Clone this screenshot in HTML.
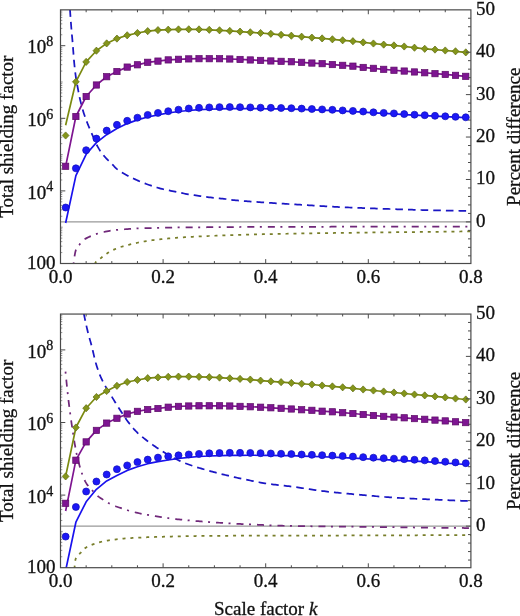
<!DOCTYPE html><html><head><meta charset="utf-8"><style>html,body{margin:0;padding:0;background:#fff;}svg{display:block;}text{font-family:"Liberation Serif","Times New Roman",serif;fill:#111;stroke:#111;stroke-width:0.3px;}</style></head><body>
<svg width="520" height="616" viewBox="0 0 520 616">
<defs>
<clipPath id="c0"><rect x="60.5" y="9.85" width="410.40" height="253.65"/></clipPath>
<clipPath id="c1"><rect x="60.5" y="314.06" width="410.40" height="253.64"/></clipPath>
</defs>
<line x1="60.5" y1="221.90" x2="470.9" y2="221.90" stroke="#999" stroke-width="1.3"/>
<g clip-path="url(#c0)" fill="none" stroke-linecap="butt">
<path d="M70,9.85 L70.1,11.34 L70.21,12.84 L70.31,14.33 L70.42,15.82 L70.52,17.31 L70.63,18.81 L70.74,20.3 L70.85,21.79 L70.96,23.28 L71.08,24.77 L71.19,26.27 L71.31,27.76 L71.43,29.25 L71.56,30.74 L71.69,32.23 L71.82,33.72 L71.95,35.21 L72.09,36.7 L72.22,38.19 L72.36,39.68 L72.49,41.17 L72.61,42.66 L72.74,44.15 L72.86,45.65 L72.97,47.14 L73.08,48.63 L73.19,50.12 L73.31,51.61 L73.42,53.11 L73.53,54.6 L73.64,56.09 L73.76,57.58 L73.88,59.07 L74.01,60.56 L74.14,62.05 L74.28,63.54 L74.43,65.03 L74.58,66.52 L74.73,68.01 L74.89,69.5 L75.06,70.98 L75.24,72.47 L75.43,73.95 L75.63,75.44 L75.84,76.92 L76.07,78.4 L76.31,79.87 L76.56,81.35 L76.83,82.82 L77.09,84.29 L77.36,85.76 L77.64,87.24 L77.91,88.71 L78.18,90.18 L78.46,91.65 L78.75,93.12 L79.04,94.58 L79.34,96.05 L79.65,97.51 L79.97,98.97 L80.31,100.43 L80.65,101.89 L81.01,103.34 L81.38,104.79 L81.76,106.24 L82.15,107.68 L82.55,109.12 L82.97,110.56 L83.4,111.99 L83.86,113.42 L84.32,114.84 L84.81,116.26 L85.31,117.67 L85.82,119.07 L86.35,120.47 L86.89,121.87 L87.43,123.26 L87.98,124.65 L88.54,126.04 L89.12,127.42 L89.71,128.8 L90.31,130.17 L90.91,131.54 L91.51,132.91 L92.11,134.28 L92.68,135.66 L93.26,137.04 L93.83,138.43 L94.4,139.81 L94.99,141.18 L95.6,142.55 L96.25,143.9 L96.93,145.23 L97.64,146.55 L98.37,147.85 L99.13,149.14 L99.93,150.41 L100.76,151.65 L101.63,152.87 L102.54,154.06 L103.48,155.22 L104.44,156.36 L105.44,157.48 L106.45,158.58 L107.47,159.67 L108.53,160.74 L109.61,161.77 L110.71,162.78 L111.8,163.81 L112.85,164.87 L113.86,165.98 L114.85,167.1 L115.89,168.17 L117.03,169.15 L118.22,170.05 L119.45,170.9 L120.71,171.71 L121.99,172.48 L123.29,173.23 L124.59,173.97 L125.89,174.7 L127.21,175.42 L128.53,176.12 L129.86,176.8 L131.2,177.47 L132.54,178.13 L133.9,178.77 L135.25,179.39 L136.62,180.01 L137.99,180.61 L139.36,181.2 L140.74,181.78 L142.13,182.34 L143.52,182.89 L144.92,183.43 L146.32,183.96 L147.72,184.47 L149.14,184.96 L150.55,185.45 L151.96,185.94 L153.38,186.41 L154.81,186.87 L156.24,187.31 L157.67,187.74 L159.11,188.15 L160.56,188.54 L162.01,188.9 L163.46,189.24 L164.93,189.56 L166.39,189.87 L167.85,190.17 L169.32,190.47 L170.79,190.77 L172.25,191.07 L173.72,191.38 L175.18,191.69 L176.64,192 L178.11,192.31 L179.57,192.62 L181.04,192.92 L182.51,193.21 L183.97,193.49 L185.45,193.77 L186.92,194.02 L188.4,194.27 L189.87,194.51 L191.35,194.74 L192.83,194.97 L194.31,195.19 L195.79,195.41 L197.27,195.62 L198.75,195.84 L200.23,196.06 L201.71,196.27 L203.19,196.49 L204.67,196.7 L206.16,196.9 L207.64,197.09 L209.12,197.28 L210.61,197.45 L212.1,197.62 L213.59,197.78 L215.07,197.93 L216.56,198.07 L218.05,198.22 L219.54,198.37 L221.03,198.52 L222.52,198.67 L224.01,198.83 L225.49,199 L226.98,199.19 L228.46,199.39 L229.94,199.6 L231.42,199.81 L232.91,200.01 L234.39,200.19 L235.88,200.35 L237.37,200.49 L238.86,200.63 L240.35,200.76 L241.84,200.89 L243.33,201.01 L244.82,201.13 L246.31,201.24 L247.81,201.35 L249.3,201.46 L250.79,201.57 L252.28,201.67 L253.78,201.77 L255.27,201.87 L256.76,201.98 L258.25,202.08 L259.75,202.18 L261.24,202.29 L262.73,202.39 L264.23,202.49 L265.72,202.59 L267.21,202.69 L268.7,202.79 L270.2,202.89 L271.69,202.98 L273.18,203.08 L274.68,203.17 L276.17,203.27 L277.66,203.36 L279.16,203.45 L280.65,203.55 L282.14,203.64 L283.64,203.73 L285.13,203.82 L286.62,203.91 L288.12,204 L289.61,204.09 L291.1,204.18 L292.6,204.27 L294.09,204.36 L295.58,204.45 L297.08,204.54 L298.57,204.63 L300.07,204.73 L301.56,204.82 L303.05,204.91 L304.55,205 L306.04,205.1 L307.53,205.19 L309.03,205.28 L310.52,205.38 L312.01,205.47 L313.51,205.56 L315,205.65 L316.49,205.75 L317.99,205.84 L319.48,205.93 L320.97,206.02 L322.47,206.11 L323.96,206.2 L325.45,206.29 L326.95,206.37 L328.44,206.46 L329.93,206.55 L331.43,206.63 L332.92,206.71 L334.42,206.79 L335.91,206.87 L337.41,206.95 L338.9,207.02 L340.39,207.1 L341.89,207.17 L343.38,207.24 L344.88,207.3 L346.37,207.37 L347.87,207.44 L349.36,207.5 L350.86,207.57 L352.35,207.63 L353.85,207.69 L355.34,207.75 L356.84,207.81 L358.33,207.87 L359.83,207.93 L361.32,207.99 L362.82,208.04 L364.31,208.1 L365.81,208.15 L367.3,208.21 L368.8,208.26 L370.29,208.32 L371.79,208.37 L373.28,208.42 L374.78,208.48 L376.27,208.53 L377.77,208.58 L379.27,208.64 L380.76,208.69 L382.26,208.74 L383.75,208.79 L385.25,208.84 L386.74,208.9 L388.24,208.95 L389.73,209 L391.23,209.05 L392.72,209.1 L394.22,209.15 L395.71,209.21 L397.21,209.26 L398.7,209.31 L400.2,209.36 L401.7,209.41 L403.19,209.46 L404.69,209.51 L406.18,209.55 L407.68,209.6 L409.17,209.65 L410.67,209.7 L412.16,209.74 L413.66,209.79 L415.16,209.83 L416.65,209.87 L418.15,209.91 L419.64,209.96 L421.14,210 L422.63,210.03 L424.13,210.07 L425.63,210.11 L427.12,210.14 L428.62,210.18 L430.11,210.21 L431.61,210.24 L433.1,210.28 L434.6,210.31 L436.1,210.34 L437.59,210.37 L439.09,210.4 L440.58,210.43 L442.08,210.45 L443.58,210.48 L445.07,210.51 L446.57,210.54 L448.06,210.57 L449.56,210.59 L451.06,210.62 L452.55,210.65 L454.05,210.67 L455.54,210.7 L457.04,210.73 L458.54,210.75 L460.03,210.78 L461.53,210.81 L463.02,210.83 L464.52,210.86 L466.02,210.89 L467.51,210.92 L469.01,210.94 L470.5,210.97 L472,211" stroke="#1a16c4" stroke-width="1.75" stroke-dasharray="7.6,5.04" stroke-dashoffset="0.55"/>
<path d="M73.4,266 L73.53,264.51 L73.67,263.02 L73.83,261.53 L74,260.04 L74.19,258.56 L74.41,257.07 L74.65,255.6 L74.91,254.12 L75.19,252.65 L75.52,251.19 L75.94,249.75 L76.57,248.4 L77.33,247.11 L78.25,245.93 L79.26,244.82 L80.23,243.68 L81.21,242.55 L82.22,241.44 L83.28,240.39 L84.44,239.44 L85.69,238.62 L87,237.89 L88.34,237.22 L89.7,236.6 L91.07,235.99 L92.44,235.4 L93.83,234.84 L95.24,234.32 L96.66,233.84 L98.09,233.42 L99.54,233.04 L101,232.69 L102.45,232.35 L103.91,232.02 L105.37,231.68 L106.83,231.36 L108.3,231.06 L109.78,230.81 L111.26,230.58 L112.74,230.38 L114.23,230.19 L115.72,230.02 L117.2,229.87 L118.7,229.73 L120.19,229.6 L121.68,229.48 L123.17,229.36 L124.67,229.25 L126.16,229.14 L127.65,229.03 L129.15,228.93 L130.64,228.82 L132.13,228.72 L133.63,228.63 L135.12,228.55 L136.62,228.48 L138.11,228.42 L139.61,228.37 L141.11,228.32 L142.6,228.27 L144.1,228.23 L145.6,228.18 L147.09,228.14 L148.59,228.1 L150.09,228.05 L151.58,228.01 L153.08,227.96 L154.58,227.91 L156.07,227.86 L157.57,227.82 L159.07,227.77 L160.56,227.73 L162.06,227.7 L163.56,227.66 L165.05,227.63 L166.55,227.61 L168.05,227.58 L169.55,227.56 L171.04,227.55 L172.54,227.53 L174.04,227.51 L175.53,227.5 L177.03,227.48 L178.53,227.47 L180.03,227.45 L181.52,227.44 L183.02,227.43 L184.52,227.41 L186.02,227.4 L187.51,227.39 L189.01,227.38 L190.51,227.37 L192,227.36 L193.5,227.35 L195,227.34 L196.5,227.33 L197.99,227.32 L199.49,227.3 L200.99,227.29 L202.49,227.28 L203.98,227.27 L205.48,227.26 L206.98,227.24 L208.47,227.23 L209.97,227.22 L211.47,227.21 L212.97,227.2 L214.46,227.18 L215.96,227.17 L217.46,227.16 L218.96,227.15 L220.45,227.14 L221.95,227.13 L223.45,227.11 L224.94,227.1 L226.44,227.09 L227.94,227.08 L229.44,227.07 L230.93,227.06 L232.43,227.05 L233.93,227.04 L235.43,227.03 L236.92,227.02 L238.42,227.01 L239.92,227 L241.41,226.99 L242.91,226.98 L244.41,226.97 L245.91,226.96 L247.4,226.95 L248.9,226.95 L250.4,226.94 L251.9,226.93 L253.39,226.92 L254.89,226.92 L256.39,226.91 L257.88,226.91 L259.38,226.9 L260.88,226.9 L262.38,226.89 L263.87,226.89 L265.37,226.88 L266.87,226.88 L268.37,226.87 L269.86,226.87 L271.36,226.87 L272.86,226.86 L274.36,226.86 L275.85,226.85 L277.35,226.85 L278.85,226.85 L280.34,226.84 L281.84,226.84 L283.34,226.84 L284.84,226.83 L286.33,226.83 L287.83,226.82 L289.33,226.82 L290.83,226.82 L292.32,226.81 L293.82,226.81 L295.32,226.81 L296.81,226.8 L298.31,226.8 L299.81,226.8 L301.31,226.8 L302.8,226.79 L304.3,226.79 L305.8,226.79 L307.3,226.78 L308.79,226.78 L310.29,226.78 L311.79,226.78 L313.29,226.77 L314.78,226.77 L316.28,226.77 L317.78,226.76 L319.27,226.76 L320.77,226.76 L322.27,226.76 L323.77,226.76 L325.26,226.75 L326.76,226.75 L328.26,226.75 L329.76,226.75 L331.25,226.74 L332.75,226.74 L334.25,226.74 L335.74,226.74 L337.24,226.73 L338.74,226.73 L340.24,226.73 L341.73,226.73 L343.23,226.73 L344.73,226.72 L346.23,226.72 L347.72,226.72 L349.22,226.72 L350.72,226.72 L352.22,226.71 L353.71,226.71 L355.21,226.71 L356.71,226.71 L358.2,226.71 L359.7,226.7 L361.2,226.7 L362.7,226.7 L364.19,226.7 L365.69,226.7 L367.19,226.69 L368.69,226.69 L370.18,226.69 L371.68,226.69 L373.18,226.69 L374.67,226.68 L376.17,226.68 L377.67,226.68 L379.17,226.68 L380.66,226.68 L382.16,226.67 L383.66,226.67 L385.16,226.67 L386.65,226.67 L388.15,226.67 L389.65,226.66 L391.15,226.66 L392.64,226.66 L394.14,226.66 L395.64,226.66 L397.13,226.65 L398.63,226.65 L400.13,226.65 L401.63,226.65 L403.12,226.65 L404.62,226.65 L406.12,226.64 L407.62,226.64 L409.11,226.64 L410.61,226.64 L412.11,226.64 L413.6,226.63 L415.1,226.63 L416.6,226.63 L418.1,226.63 L419.59,226.63 L421.09,226.63 L422.59,226.62 L424.09,226.62 L425.58,226.62 L427.08,226.62 L428.58,226.62 L430.08,226.62 L431.57,226.62 L433.07,226.62 L434.57,226.61 L436.06,226.61 L437.56,226.61 L439.06,226.61 L440.56,226.61 L442.05,226.61 L443.55,226.61 L445.05,226.61 L446.55,226.61 L448.04,226.6 L449.54,226.6 L451.04,226.6 L452.53,226.6 L454.03,226.6 L455.53,226.6 L457.03,226.6 L458.52,226.6 L460.02,226.6 L461.52,226.6 L463.02,226.6 L464.51,226.6 L466.01,226.6 L467.51,226.6 L469.01,226.6 L470.5,226.6 L472,226.6" stroke="#70287a" stroke-width="1.75" stroke-dasharray="7.02,5.51,2.0,6.02" stroke-dashoffset="10.95"/>
<path d="M94.8,266 L95.03,264.52 L95.29,263.05 L95.99,261.74 L96.94,260.59 L98.13,259.68 L99.44,258.96 L100.71,258.17 L101.88,257.24 L103.05,256.32 L104.24,255.41 L105.44,254.52 L106.67,253.67 L107.93,252.86 L109.21,252.09 L110.51,251.34 L111.82,250.63 L113.16,249.96 L114.52,249.34 L115.89,248.75 L117.28,248.21 L118.69,247.69 L120.1,247.2 L121.52,246.74 L122.95,246.31 L124.39,245.9 L125.84,245.52 L127.29,245.16 L128.74,244.81 L130.2,244.45 L131.65,244.1 L133.1,243.74 L134.56,243.4 L136.02,243.07 L137.48,242.75 L138.94,242.44 L140.4,242.14 L141.87,241.84 L143.34,241.56 L144.81,241.3 L146.29,241.06 L147.77,240.83 L149.24,240.61 L150.73,240.4 L152.21,240.2 L153.69,240.01 L155.18,239.83 L156.66,239.66 L158.15,239.49 L159.63,239.33 L161.12,239.16 L162.61,239 L164.09,238.84 L165.58,238.68 L167.07,238.53 L168.56,238.4 L170.05,238.27 L171.54,238.15 L173.03,238.04 L174.52,237.93 L176.01,237.82 L177.5,237.71 L179,237.6 L180.49,237.5 L181.98,237.4 L183.47,237.31 L184.96,237.21 L186.46,237.12 L187.95,237.03 L189.44,236.95 L190.94,236.86 L192.43,236.78 L193.92,236.7 L195.42,236.62 L196.91,236.55 L198.4,236.48 L199.9,236.4 L201.39,236.34 L202.88,236.27 L204.38,236.2 L205.87,236.13 L207.37,236.07 L208.86,236 L210.35,235.94 L211.85,235.88 L213.34,235.81 L214.84,235.75 L216.33,235.69 L217.82,235.63 L219.32,235.57 L220.81,235.51 L222.31,235.46 L223.8,235.4 L225.3,235.34 L226.79,235.29 L228.28,235.24 L229.78,235.18 L231.27,235.13 L232.77,235.08 L234.26,235.03 L235.76,234.98 L237.25,234.93 L238.75,234.88 L240.24,234.84 L241.74,234.79 L243.23,234.74 L244.73,234.7 L246.22,234.66 L247.71,234.61 L249.21,234.57 L250.7,234.53 L252.2,234.49 L253.69,234.45 L255.19,234.42 L256.68,234.38 L258.18,234.34 L259.67,234.31 L261.17,234.27 L262.66,234.24 L264.16,234.21 L265.65,234.17 L267.15,234.14 L268.64,234.11 L270.14,234.08 L271.63,234.04 L273.13,234.01 L274.62,233.98 L276.12,233.95 L277.62,233.92 L279.11,233.89 L280.61,233.86 L282.1,233.83 L283.6,233.81 L285.09,233.78 L286.59,233.75 L288.08,233.72 L289.58,233.7 L291.07,233.67 L292.57,233.64 L294.06,233.62 L295.56,233.59 L297.05,233.56 L298.55,233.54 L300.04,233.51 L301.54,233.49 L303.03,233.46 L304.53,233.44 L306.02,233.42 L307.52,233.39 L309.01,233.37 L310.51,233.35 L312,233.32 L313.5,233.3 L314.99,233.28 L316.49,233.25 L317.99,233.23 L319.48,233.21 L320.98,233.19 L322.47,233.16 L323.97,233.14 L325.46,233.12 L326.96,233.1 L328.45,233.08 L329.95,233.06 L331.44,233.04 L332.94,233.01 L334.43,232.99 L335.93,232.97 L337.42,232.95 L338.92,232.93 L340.41,232.91 L341.91,232.89 L343.4,232.87 L344.9,232.85 L346.4,232.83 L347.89,232.81 L349.39,232.79 L350.88,232.77 L352.38,232.75 L353.87,232.73 L355.37,232.71 L356.86,232.69 L358.36,232.67 L359.85,232.65 L361.35,232.63 L362.84,232.61 L364.34,232.59 L365.83,232.57 L367.33,232.55 L368.82,232.53 L370.32,232.51 L371.81,232.49 L373.31,232.47 L374.81,232.45 L376.3,232.43 L377.8,232.42 L379.29,232.4 L380.79,232.38 L382.28,232.36 L383.78,232.35 L385.27,232.33 L386.77,232.31 L388.26,232.3 L389.76,232.28 L391.25,232.27 L392.75,232.25 L394.24,232.23 L395.74,232.22 L397.24,232.2 L398.73,232.19 L400.23,232.17 L401.72,232.16 L403.22,232.14 L404.71,232.13 L406.21,232.11 L407.7,232.1 L409.2,232.08 L410.69,232.07 L412.19,232.05 L413.68,232.03 L415.18,232.02 L416.67,232 L418.17,231.99 L419.67,231.97 L421.16,231.96 L422.66,231.94 L424.15,231.93 L425.65,231.91 L427.14,231.9 L428.64,231.88 L430.13,231.86 L431.63,231.85 L433.12,231.83 L434.62,231.81 L436.11,231.8 L437.61,231.78 L439.1,231.76 L440.6,231.75 L442.09,231.73 L443.59,231.71 L445.09,231.69 L446.58,231.67 L448.08,231.66 L449.57,231.64 L451.07,231.62 L452.56,231.6 L454.06,231.58 L455.55,231.56 L457.05,231.54 L458.54,231.52 L460.04,231.5 L461.53,231.48 L463.03,231.45 L464.52,231.43 L466.02,231.41 L467.51,231.39 L469.01,231.36 L470.5,231.33 L472,231.3" stroke="#787e2a" stroke-width="1.75" stroke-dasharray="3,4.9" stroke-dashoffset="6.05"/>
</g>
<g clip-path="url(#c0)" fill="none" stroke-linejoin="round">
<path d="M65.63,223 L75.89,175.6 L86.15,154.3 L96.41,142.6 L106.67,134.7 L116.93,128.5 L127.19,123.6 L137.45,119.9 L147.71,117 L157.97,114.8 L168.23,113 L178.49,111.5 L188.75,110.5 L199.01,109.72 L209.27,109.24 L219.53,108.86 L229.79,108.68 L240.05,108.6 L250.31,108.62 L260.57,108.74 L270.83,108.78 L281.09,108.94 L291.35,109.1 L301.61,109.46 L311.87,109.82 L322.13,110.18 L332.39,110.54 L342.65,111.1 L352.91,111.56 L363.17,112.12 L373.43,112.88 L383.69,113.44 L393.95,113.9 L404.21,114.56 L414.47,115.12 L424.73,115.6 L434.99,116.2 L445.25,116.7 L455.51,117.2 L465.77,117.7" stroke="#1a12ee" stroke-width="1.7"/>
<path d="M65.63,166.3 L75.89,116.5 L86.15,96.5 L96.41,85 L106.67,76.7 L116.93,71.5 L127.19,67.1 L137.45,64.8 L147.71,62.3 L157.97,61.1 L168.23,59.9 L178.49,59.3 L188.75,58.9 L199.01,58.7 L209.27,58.7 L219.53,58.73 L229.79,59 L240.05,59.47 L250.31,59.95 L260.57,60.41 L270.83,60.95 L281.09,61.35 L291.35,61.75 L301.61,62.35 L311.87,63.05 L322.13,63.65 L332.39,64.55 L342.65,65.35 L352.91,66.15 L363.17,67.45 L373.43,68.35 L383.69,69.35 L393.95,70.25 L404.21,71.05 L414.47,71.95 L424.73,72.75 L434.99,73.65 L445.25,74.45 L455.51,75.35 L465.77,76.35" stroke="#7e1590" stroke-width="1.7"/>
<path d="M65.63,125.3 L75.89,81.8 L86.15,61.9 L96.41,50.7 L106.67,43.4 L116.93,38.6 L127.19,35.3 L137.45,33 L147.71,31.1 L157.97,30.1 L168.23,29.7 L178.49,29.4 L188.75,29.3 L199.01,29.4 L209.27,29.8 L219.53,30.3 L229.79,30.9 L240.05,31.6 L250.31,32.3 L260.57,33 L270.83,33.8 L281.09,34.8 L291.35,35.7 L301.61,36.7 L311.87,37.6 L322.13,38.4 L332.39,39.3 L342.65,40.3 L352.91,41.2 L363.17,42.4 L373.43,43.5 L383.69,44.6 L393.95,45.4 L404.21,46.5 L414.47,47.7 L424.73,48.8 L434.99,49.6 L445.25,50.5 L455.51,51.3 L465.77,52.4" stroke="#7b8a10" stroke-width="1.7"/>
</g>
<g clip-path="url(#c0)">
<circle cx="65.63" cy="207.5" r="3.5" fill="#1c18f6" stroke="#1010b8" stroke-width="0.7"/>
<circle cx="75.89" cy="168.3" r="3.5" fill="#1c18f6" stroke="#1010b8" stroke-width="0.7"/>
<circle cx="86.15" cy="150.2" r="3.5" fill="#1c18f6" stroke="#1010b8" stroke-width="0.7"/>
<circle cx="96.41" cy="138.6" r="3.5" fill="#1c18f6" stroke="#1010b8" stroke-width="0.7"/>
<circle cx="106.67" cy="130.6" r="3.5" fill="#1c18f6" stroke="#1010b8" stroke-width="0.7"/>
<circle cx="116.93" cy="124.8" r="3.5" fill="#1c18f6" stroke="#1010b8" stroke-width="0.7"/>
<circle cx="127.19" cy="120.8" r="3.5" fill="#1c18f6" stroke="#1010b8" stroke-width="0.7"/>
<circle cx="137.45" cy="117.7" r="3.5" fill="#1c18f6" stroke="#1010b8" stroke-width="0.7"/>
<circle cx="147.71" cy="114.9" r="3.5" fill="#1c18f6" stroke="#1010b8" stroke-width="0.7"/>
<circle cx="157.97" cy="112.9" r="3.5" fill="#1c18f6" stroke="#1010b8" stroke-width="0.7"/>
<circle cx="168.23" cy="111.2" r="3.5" fill="#1c18f6" stroke="#1010b8" stroke-width="0.7"/>
<circle cx="178.49" cy="109.7" r="3.5" fill="#1c18f6" stroke="#1010b8" stroke-width="0.7"/>
<circle cx="188.75" cy="108.5" r="3.5" fill="#1c18f6" stroke="#1010b8" stroke-width="0.7"/>
<circle cx="199.01" cy="107.8" r="3.5" fill="#1c18f6" stroke="#1010b8" stroke-width="0.7"/>
<circle cx="209.27" cy="107.4" r="3.5" fill="#1c18f6" stroke="#1010b8" stroke-width="0.7"/>
<circle cx="219.53" cy="107.14" r="3.5" fill="#1c18f6" stroke="#1010b8" stroke-width="0.7"/>
<circle cx="229.79" cy="107.12" r="3.5" fill="#1c18f6" stroke="#1010b8" stroke-width="0.7"/>
<circle cx="240.05" cy="107.2" r="3.5" fill="#1c18f6" stroke="#1010b8" stroke-width="0.7"/>
<circle cx="250.31" cy="107.38" r="3.5" fill="#1c18f6" stroke="#1010b8" stroke-width="0.7"/>
<circle cx="260.57" cy="107.66" r="3.5" fill="#1c18f6" stroke="#1010b8" stroke-width="0.7"/>
<circle cx="270.83" cy="107.8" r="3.5" fill="#1c18f6" stroke="#1010b8" stroke-width="0.7"/>
<circle cx="281.09" cy="108" r="3.5" fill="#1c18f6" stroke="#1010b8" stroke-width="0.7"/>
<circle cx="291.35" cy="108.2" r="3.5" fill="#1c18f6" stroke="#1010b8" stroke-width="0.7"/>
<circle cx="301.61" cy="108.6" r="3.5" fill="#1c18f6" stroke="#1010b8" stroke-width="0.7"/>
<circle cx="311.87" cy="109" r="3.5" fill="#1c18f6" stroke="#1010b8" stroke-width="0.7"/>
<circle cx="322.13" cy="109.4" r="3.5" fill="#1c18f6" stroke="#1010b8" stroke-width="0.7"/>
<circle cx="332.39" cy="109.8" r="3.5" fill="#1c18f6" stroke="#1010b8" stroke-width="0.7"/>
<circle cx="342.65" cy="110.4" r="3.5" fill="#1c18f6" stroke="#1010b8" stroke-width="0.7"/>
<circle cx="352.91" cy="110.9" r="3.5" fill="#1c18f6" stroke="#1010b8" stroke-width="0.7"/>
<circle cx="363.17" cy="111.5" r="3.5" fill="#1c18f6" stroke="#1010b8" stroke-width="0.7"/>
<circle cx="373.43" cy="112.3" r="3.5" fill="#1c18f6" stroke="#1010b8" stroke-width="0.7"/>
<circle cx="383.69" cy="112.9" r="3.5" fill="#1c18f6" stroke="#1010b8" stroke-width="0.7"/>
<circle cx="393.95" cy="113.4" r="3.5" fill="#1c18f6" stroke="#1010b8" stroke-width="0.7"/>
<circle cx="404.21" cy="114.1" r="3.5" fill="#1c18f6" stroke="#1010b8" stroke-width="0.7"/>
<circle cx="414.47" cy="114.7" r="3.5" fill="#1c18f6" stroke="#1010b8" stroke-width="0.7"/>
<circle cx="424.73" cy="115.2" r="3.5" fill="#1c18f6" stroke="#1010b8" stroke-width="0.7"/>
<circle cx="434.99" cy="115.8" r="3.5" fill="#1c18f6" stroke="#1010b8" stroke-width="0.7"/>
<circle cx="445.25" cy="116.3" r="3.5" fill="#1c18f6" stroke="#1010b8" stroke-width="0.7"/>
<circle cx="455.51" cy="116.8" r="3.5" fill="#1c18f6" stroke="#1010b8" stroke-width="0.7"/>
<circle cx="465.77" cy="117.3" r="3.5" fill="#1c18f6" stroke="#1010b8" stroke-width="0.7"/>
<rect x="62.48" y="163.15" width="6.3" height="6.3" fill="#7e1592" stroke="#5c0c66" stroke-width="0.7"/>
<rect x="72.74" y="113.35" width="6.3" height="6.3" fill="#7e1592" stroke="#5c0c66" stroke-width="0.7"/>
<rect x="83" y="93.35" width="6.3" height="6.3" fill="#7e1592" stroke="#5c0c66" stroke-width="0.7"/>
<rect x="93.26" y="81.85" width="6.3" height="6.3" fill="#7e1592" stroke="#5c0c66" stroke-width="0.7"/>
<rect x="103.52" y="73.55" width="6.3" height="6.3" fill="#7e1592" stroke="#5c0c66" stroke-width="0.7"/>
<rect x="113.78" y="68.35" width="6.3" height="6.3" fill="#7e1592" stroke="#5c0c66" stroke-width="0.7"/>
<rect x="124.04" y="63.95" width="6.3" height="6.3" fill="#7e1592" stroke="#5c0c66" stroke-width="0.7"/>
<rect x="134.3" y="61.65" width="6.3" height="6.3" fill="#7e1592" stroke="#5c0c66" stroke-width="0.7"/>
<rect x="144.56" y="59.15" width="6.3" height="6.3" fill="#7e1592" stroke="#5c0c66" stroke-width="0.7"/>
<rect x="154.82" y="57.95" width="6.3" height="6.3" fill="#7e1592" stroke="#5c0c66" stroke-width="0.7"/>
<rect x="165.08" y="56.75" width="6.3" height="6.3" fill="#7e1592" stroke="#5c0c66" stroke-width="0.7"/>
<rect x="175.34" y="56.15" width="6.3" height="6.3" fill="#7e1592" stroke="#5c0c66" stroke-width="0.7"/>
<rect x="185.6" y="55.75" width="6.3" height="6.3" fill="#7e1592" stroke="#5c0c66" stroke-width="0.7"/>
<rect x="195.86" y="55.55" width="6.3" height="6.3" fill="#7e1592" stroke="#5c0c66" stroke-width="0.7"/>
<rect x="206.12" y="55.55" width="6.3" height="6.3" fill="#7e1592" stroke="#5c0c66" stroke-width="0.7"/>
<rect x="216.38" y="55.59" width="6.3" height="6.3" fill="#7e1592" stroke="#5c0c66" stroke-width="0.7"/>
<rect x="226.64" y="55.85" width="6.3" height="6.3" fill="#7e1592" stroke="#5c0c66" stroke-width="0.7"/>
<rect x="236.9" y="56.32" width="6.3" height="6.3" fill="#7e1592" stroke="#5c0c66" stroke-width="0.7"/>
<rect x="247.16" y="56.8" width="6.3" height="6.3" fill="#7e1592" stroke="#5c0c66" stroke-width="0.7"/>
<rect x="257.42" y="57.27" width="6.3" height="6.3" fill="#7e1592" stroke="#5c0c66" stroke-width="0.7"/>
<rect x="267.68" y="57.8" width="6.3" height="6.3" fill="#7e1592" stroke="#5c0c66" stroke-width="0.7"/>
<rect x="277.94" y="58.2" width="6.3" height="6.3" fill="#7e1592" stroke="#5c0c66" stroke-width="0.7"/>
<rect x="288.2" y="58.6" width="6.3" height="6.3" fill="#7e1592" stroke="#5c0c66" stroke-width="0.7"/>
<rect x="298.46" y="59.2" width="6.3" height="6.3" fill="#7e1592" stroke="#5c0c66" stroke-width="0.7"/>
<rect x="308.72" y="59.9" width="6.3" height="6.3" fill="#7e1592" stroke="#5c0c66" stroke-width="0.7"/>
<rect x="318.98" y="60.5" width="6.3" height="6.3" fill="#7e1592" stroke="#5c0c66" stroke-width="0.7"/>
<rect x="329.24" y="61.4" width="6.3" height="6.3" fill="#7e1592" stroke="#5c0c66" stroke-width="0.7"/>
<rect x="339.5" y="62.2" width="6.3" height="6.3" fill="#7e1592" stroke="#5c0c66" stroke-width="0.7"/>
<rect x="349.76" y="63" width="6.3" height="6.3" fill="#7e1592" stroke="#5c0c66" stroke-width="0.7"/>
<rect x="360.02" y="64.3" width="6.3" height="6.3" fill="#7e1592" stroke="#5c0c66" stroke-width="0.7"/>
<rect x="370.28" y="65.2" width="6.3" height="6.3" fill="#7e1592" stroke="#5c0c66" stroke-width="0.7"/>
<rect x="380.54" y="66.2" width="6.3" height="6.3" fill="#7e1592" stroke="#5c0c66" stroke-width="0.7"/>
<rect x="390.8" y="67.1" width="6.3" height="6.3" fill="#7e1592" stroke="#5c0c66" stroke-width="0.7"/>
<rect x="401.06" y="67.9" width="6.3" height="6.3" fill="#7e1592" stroke="#5c0c66" stroke-width="0.7"/>
<rect x="411.32" y="68.8" width="6.3" height="6.3" fill="#7e1592" stroke="#5c0c66" stroke-width="0.7"/>
<rect x="421.58" y="69.6" width="6.3" height="6.3" fill="#7e1592" stroke="#5c0c66" stroke-width="0.7"/>
<rect x="431.84" y="70.5" width="6.3" height="6.3" fill="#7e1592" stroke="#5c0c66" stroke-width="0.7"/>
<rect x="442.1" y="71.3" width="6.3" height="6.3" fill="#7e1592" stroke="#5c0c66" stroke-width="0.7"/>
<rect x="452.36" y="72.2" width="6.3" height="6.3" fill="#7e1592" stroke="#5c0c66" stroke-width="0.7"/>
<rect x="462.62" y="73.2" width="6.3" height="6.3" fill="#7e1592" stroke="#5c0c66" stroke-width="0.7"/>
<path d="M65.63,131.9 L69.03,135.5 L65.63,139.1 L62.23,135.5Z" fill="#84951a" stroke="#5f6c12" stroke-width="0.7" stroke-linejoin="miter"/>
<path d="M75.89,78.2 L79.29,81.8 L75.89,85.4 L72.49,81.8Z" fill="#84951a" stroke="#5f6c12" stroke-width="0.7" stroke-linejoin="miter"/>
<path d="M86.15,58.3 L89.55,61.9 L86.15,65.5 L82.75,61.9Z" fill="#84951a" stroke="#5f6c12" stroke-width="0.7" stroke-linejoin="miter"/>
<path d="M96.41,47.1 L99.81,50.7 L96.41,54.3 L93.01,50.7Z" fill="#84951a" stroke="#5f6c12" stroke-width="0.7" stroke-linejoin="miter"/>
<path d="M106.67,39.8 L110.07,43.4 L106.67,47 L103.27,43.4Z" fill="#84951a" stroke="#5f6c12" stroke-width="0.7" stroke-linejoin="miter"/>
<path d="M116.93,35 L120.33,38.6 L116.93,42.2 L113.53,38.6Z" fill="#84951a" stroke="#5f6c12" stroke-width="0.7" stroke-linejoin="miter"/>
<path d="M127.19,31.7 L130.59,35.3 L127.19,38.9 L123.79,35.3Z" fill="#84951a" stroke="#5f6c12" stroke-width="0.7" stroke-linejoin="miter"/>
<path d="M137.45,29.4 L140.85,33 L137.45,36.6 L134.05,33Z" fill="#84951a" stroke="#5f6c12" stroke-width="0.7" stroke-linejoin="miter"/>
<path d="M147.71,27.5 L151.11,31.1 L147.71,34.7 L144.31,31.1Z" fill="#84951a" stroke="#5f6c12" stroke-width="0.7" stroke-linejoin="miter"/>
<path d="M157.97,26.5 L161.37,30.1 L157.97,33.7 L154.57,30.1Z" fill="#84951a" stroke="#5f6c12" stroke-width="0.7" stroke-linejoin="miter"/>
<path d="M168.23,26.1 L171.63,29.7 L168.23,33.3 L164.83,29.7Z" fill="#84951a" stroke="#5f6c12" stroke-width="0.7" stroke-linejoin="miter"/>
<path d="M178.49,25.8 L181.89,29.4 L178.49,33 L175.09,29.4Z" fill="#84951a" stroke="#5f6c12" stroke-width="0.7" stroke-linejoin="miter"/>
<path d="M188.75,25.7 L192.15,29.3 L188.75,32.9 L185.35,29.3Z" fill="#84951a" stroke="#5f6c12" stroke-width="0.7" stroke-linejoin="miter"/>
<path d="M199.01,25.8 L202.41,29.4 L199.01,33 L195.61,29.4Z" fill="#84951a" stroke="#5f6c12" stroke-width="0.7" stroke-linejoin="miter"/>
<path d="M209.27,26.2 L212.67,29.8 L209.27,33.4 L205.87,29.8Z" fill="#84951a" stroke="#5f6c12" stroke-width="0.7" stroke-linejoin="miter"/>
<path d="M219.53,26.7 L222.93,30.3 L219.53,33.9 L216.13,30.3Z" fill="#84951a" stroke="#5f6c12" stroke-width="0.7" stroke-linejoin="miter"/>
<path d="M229.79,27.3 L233.19,30.9 L229.79,34.5 L226.39,30.9Z" fill="#84951a" stroke="#5f6c12" stroke-width="0.7" stroke-linejoin="miter"/>
<path d="M240.05,28 L243.45,31.6 L240.05,35.2 L236.65,31.6Z" fill="#84951a" stroke="#5f6c12" stroke-width="0.7" stroke-linejoin="miter"/>
<path d="M250.31,28.7 L253.71,32.3 L250.31,35.9 L246.91,32.3Z" fill="#84951a" stroke="#5f6c12" stroke-width="0.7" stroke-linejoin="miter"/>
<path d="M260.57,29.4 L263.97,33 L260.57,36.6 L257.17,33Z" fill="#84951a" stroke="#5f6c12" stroke-width="0.7" stroke-linejoin="miter"/>
<path d="M270.83,30.2 L274.23,33.8 L270.83,37.4 L267.43,33.8Z" fill="#84951a" stroke="#5f6c12" stroke-width="0.7" stroke-linejoin="miter"/>
<path d="M281.09,31.2 L284.49,34.8 L281.09,38.4 L277.69,34.8Z" fill="#84951a" stroke="#5f6c12" stroke-width="0.7" stroke-linejoin="miter"/>
<path d="M291.35,32.1 L294.75,35.7 L291.35,39.3 L287.95,35.7Z" fill="#84951a" stroke="#5f6c12" stroke-width="0.7" stroke-linejoin="miter"/>
<path d="M301.61,33.1 L305.01,36.7 L301.61,40.3 L298.21,36.7Z" fill="#84951a" stroke="#5f6c12" stroke-width="0.7" stroke-linejoin="miter"/>
<path d="M311.87,34 L315.27,37.6 L311.87,41.2 L308.47,37.6Z" fill="#84951a" stroke="#5f6c12" stroke-width="0.7" stroke-linejoin="miter"/>
<path d="M322.13,34.8 L325.53,38.4 L322.13,42 L318.73,38.4Z" fill="#84951a" stroke="#5f6c12" stroke-width="0.7" stroke-linejoin="miter"/>
<path d="M332.39,35.7 L335.79,39.3 L332.39,42.9 L328.99,39.3Z" fill="#84951a" stroke="#5f6c12" stroke-width="0.7" stroke-linejoin="miter"/>
<path d="M342.65,36.7 L346.05,40.3 L342.65,43.9 L339.25,40.3Z" fill="#84951a" stroke="#5f6c12" stroke-width="0.7" stroke-linejoin="miter"/>
<path d="M352.91,37.6 L356.31,41.2 L352.91,44.8 L349.51,41.2Z" fill="#84951a" stroke="#5f6c12" stroke-width="0.7" stroke-linejoin="miter"/>
<path d="M363.17,38.8 L366.57,42.4 L363.17,46 L359.77,42.4Z" fill="#84951a" stroke="#5f6c12" stroke-width="0.7" stroke-linejoin="miter"/>
<path d="M373.43,39.9 L376.83,43.5 L373.43,47.1 L370.03,43.5Z" fill="#84951a" stroke="#5f6c12" stroke-width="0.7" stroke-linejoin="miter"/>
<path d="M383.69,41 L387.09,44.6 L383.69,48.2 L380.29,44.6Z" fill="#84951a" stroke="#5f6c12" stroke-width="0.7" stroke-linejoin="miter"/>
<path d="M393.95,41.8 L397.35,45.4 L393.95,49 L390.55,45.4Z" fill="#84951a" stroke="#5f6c12" stroke-width="0.7" stroke-linejoin="miter"/>
<path d="M404.21,42.9 L407.61,46.5 L404.21,50.1 L400.81,46.5Z" fill="#84951a" stroke="#5f6c12" stroke-width="0.7" stroke-linejoin="miter"/>
<path d="M414.47,44.1 L417.87,47.7 L414.47,51.3 L411.07,47.7Z" fill="#84951a" stroke="#5f6c12" stroke-width="0.7" stroke-linejoin="miter"/>
<path d="M424.73,45.2 L428.13,48.8 L424.73,52.4 L421.33,48.8Z" fill="#84951a" stroke="#5f6c12" stroke-width="0.7" stroke-linejoin="miter"/>
<path d="M434.99,46 L438.39,49.6 L434.99,53.2 L431.59,49.6Z" fill="#84951a" stroke="#5f6c12" stroke-width="0.7" stroke-linejoin="miter"/>
<path d="M445.25,46.9 L448.65,50.5 L445.25,54.1 L441.85,50.5Z" fill="#84951a" stroke="#5f6c12" stroke-width="0.7" stroke-linejoin="miter"/>
<path d="M455.51,47.7 L458.91,51.3 L455.51,54.9 L452.11,51.3Z" fill="#84951a" stroke="#5f6c12" stroke-width="0.7" stroke-linejoin="miter"/>
<path d="M465.77,48.8 L469.17,52.4 L465.77,56 L462.37,52.4Z" fill="#84951a" stroke="#5f6c12" stroke-width="0.7" stroke-linejoin="miter"/>
</g>
<path d="M86.15,263.5v-2.4M86.15,9.85v2.4M111.8,263.5v-2.4M111.8,9.85v2.4M137.45,263.5v-2.4M137.45,9.85v2.4M163.1,263.5v-4.4M163.1,9.85v4.4M188.75,263.5v-2.4M188.75,9.85v2.4M214.4,263.5v-2.4M214.4,9.85v2.4M240.05,263.5v-2.4M240.05,9.85v2.4M265.7,263.5v-4.4M265.7,9.85v4.4M291.35,263.5v-2.4M291.35,9.85v2.4M317,263.5v-2.4M317,9.85v2.4M342.65,263.5v-2.4M342.65,9.85v2.4M368.3,263.5v-4.4M368.3,9.85v4.4M393.95,263.5v-2.4M393.95,9.85v2.4M419.6,263.5v-2.4M419.6,9.85v2.4M445.25,263.5v-2.4M445.25,9.85v2.4M60.5,190.9h4.8M60.5,118.3h4.8M60.5,45.7h4.8M470.9,255.84h-2.9M470.9,247.36h-2.9M470.9,238.87h-2.9M470.9,230.39h-2.9M470.9,221.9h-5.0M470.9,213.41h-2.9M470.9,204.93h-2.9M470.9,196.44h-2.9M470.9,187.96h-2.9M470.9,179.47h-5.0M470.9,170.98h-2.9M470.9,162.5h-2.9M470.9,154.01h-2.9M470.9,145.53h-2.9M470.9,137.04h-5.0M470.9,128.55h-2.9M470.9,120.07h-2.9M470.9,111.58h-2.9M470.9,103.1h-2.9M470.9,94.61h-5.0M470.9,86.12h-2.9M470.9,77.64h-2.9M470.9,69.15h-2.9M470.9,60.67h-2.9M470.9,52.18h-5.0M470.9,43.69h-2.9M470.9,35.21h-2.9M470.9,26.72h-2.9M470.9,18.24h-2.9" stroke="#4a4a4a" stroke-width="1"/>
<path d="M60.5,252.57h1.8M60.5,246.18h1.8M60.5,241.65h1.8M60.5,238.13h1.8M60.5,235.25h1.8M60.5,232.82h1.8M60.5,230.72h1.8M60.5,228.86h1.8M60.5,227.2h2.2M60.5,216.27h1.8M60.5,209.88h1.8M60.5,205.35h1.8M60.5,201.83h1.8M60.5,198.95h1.8M60.5,196.52h1.8M60.5,194.42h1.8M60.5,192.56h1.8M60.5,179.97h1.8M60.5,173.58h1.8M60.5,169.05h1.8M60.5,165.53h1.8M60.5,162.65h1.8M60.5,160.22h1.8M60.5,158.12h1.8M60.5,156.26h1.8M60.5,154.6h2.2M60.5,143.67h1.8M60.5,137.28h1.8M60.5,132.75h1.8M60.5,129.23h1.8M60.5,126.35h1.8M60.5,123.92h1.8M60.5,121.82h1.8M60.5,119.96h1.8M60.5,107.37h1.8M60.5,100.98h1.8M60.5,96.45h1.8M60.5,92.93h1.8M60.5,90.05h1.8M60.5,87.62h1.8M60.5,85.52h1.8M60.5,83.66h1.8M60.5,82h2.2M60.5,71.07h1.8M60.5,64.68h1.8M60.5,60.15h1.8M60.5,56.63h1.8M60.5,53.75h1.8M60.5,51.32h1.8M60.5,49.22h1.8M60.5,47.36h1.8M60.5,34.77h1.8M60.5,28.38h1.8M60.5,23.85h1.8M60.5,20.33h1.8M60.5,17.45h1.8M60.5,15.02h1.8M60.5,12.92h1.8M60.5,11.06h1.8" stroke="#777" stroke-width="0.8"/>
<rect x="60.5" y="9.85" width="410.4" height="253.65" fill="none" stroke="#4a4a4a" stroke-width="1.2"/>
<text x="53.3" y="53.4" text-anchor="end" font-size="19">10<tspan font-size="14" dy="-7.3">8</tspan></text>
<text x="53.3" y="126.0" text-anchor="end" font-size="19">10<tspan font-size="14" dy="-7.3">6</tspan></text>
<text x="53.3" y="198.6" text-anchor="end" font-size="19">10<tspan font-size="14" dy="-7.3">4</tspan></text>
<text x="55.5" y="268.5" text-anchor="end" font-size="19">100</text>
<text x="475.9" y="226.8" font-size="19">0</text>
<text x="475.9" y="184.4" font-size="19">10</text>
<text x="475.9" y="141.9" font-size="19">20</text>
<text x="475.9" y="99.5" font-size="19">30</text>
<text x="475.9" y="57.1" font-size="19">40</text>
<text x="475.9" y="14.7" font-size="19">50</text>
<text x="60.5" y="283.0" text-anchor="middle" font-size="19">0.0</text>
<text x="163.1" y="283.0" text-anchor="middle" font-size="19">0.2</text>
<text x="265.7" y="283.0" text-anchor="middle" font-size="19">0.4</text>
<text x="368.3" y="283.0" text-anchor="middle" font-size="19">0.6</text>
<text x="470.9" y="283.0" text-anchor="middle" font-size="19">0.8</text>
<text transform="translate(13.3,136.7) rotate(-90)" text-anchor="middle" font-size="19">Total shielding factor</text>
<text transform="translate(520,136.7) rotate(-90)" text-anchor="middle" font-size="19">Percent difference</text>
<line x1="60.5" y1="526.11" x2="470.9" y2="526.11" stroke="#999" stroke-width="1.3"/>
<g clip-path="url(#c1)" fill="none" stroke-linecap="butt">
<path d="M83.75,313.2 L84.04,314.67 L84.33,316.14 L84.63,317.6 L84.93,319.07 L85.24,320.53 L85.56,321.99 L85.88,323.45 L86.2,324.92 L86.53,326.38 L86.86,327.83 L87.2,329.29 L87.55,330.75 L87.9,332.2 L88.26,333.65 L88.64,335.1 L89.03,336.55 L89.43,337.99 L89.84,339.43 L90.25,340.87 L90.66,342.3 L91.06,343.74 L91.45,345.19 L91.83,346.64 L92.2,348.09 L92.55,349.54 L92.89,351 L93.22,352.46 L93.56,353.92 L93.89,355.37 L94.23,356.83 L94.57,358.29 L94.93,359.74 L95.3,361.19 L95.69,362.63 L96.12,364.07 L96.55,365.5 L97,366.93 L97.46,368.35 L97.94,369.77 L98.44,371.18 L98.95,372.59 L99.48,373.98 L100.04,375.37 L100.62,376.75 L101.23,378.12 L101.86,379.47 L102.52,380.82 L103.2,382.15 L103.9,383.47 L104.61,384.79 L105.33,386.1 L106.07,387.4 L106.82,388.69 L107.59,389.98 L108.38,391.25 L109.17,392.52 L109.97,393.79 L110.77,395.05 L111.56,396.32 L112.35,397.59 L113.13,398.87 L113.9,400.15 L114.68,401.43 L115.46,402.71 L116.24,403.98 L117.02,405.26 L117.82,406.52 L118.62,407.79 L119.42,409.05 L120.24,410.3 L121.05,411.56 L121.88,412.81 L122.7,414.05 L123.53,415.3 L124.36,416.55 L125.19,417.79 L126.03,419.03 L126.89,420.26 L127.77,421.46 L128.68,422.65 L129.59,423.84 L130.52,425.01 L131.46,426.18 L132.41,427.33 L133.38,428.47 L134.38,429.58 L135.4,430.68 L136.45,431.75 L137.52,432.79 L138.62,433.8 L139.74,434.8 L140.87,435.78 L142.02,436.73 L143.18,437.67 L144.36,438.6 L145.54,439.52 L146.73,440.43 L147.92,441.34 L149.11,442.24 L150.31,443.13 L151.52,444.01 L152.74,444.87 L153.97,445.73 L155.2,446.58 L156.44,447.42 L157.68,448.25 L158.93,449.08 L160.19,449.89 L161.44,450.7 L162.7,451.51 L163.97,452.31 L165.23,453.11 L166.51,453.89 L167.79,454.67 L169.08,455.42 L170.38,456.16 L171.69,456.88 L173.02,457.57 L174.35,458.26 L175.69,458.93 L177.03,459.59 L178.38,460.23 L179.74,460.86 L181.1,461.48 L182.47,462.07 L183.85,462.65 L185.24,463.21 L186.64,463.74 L188.04,464.26 L189.45,464.77 L190.86,465.26 L192.28,465.74 L193.7,466.21 L195.12,466.68 L196.55,467.13 L197.98,467.57 L199.41,468 L200.84,468.43 L202.28,468.85 L203.72,469.27 L205.16,469.68 L206.59,470.09 L208.03,470.49 L209.48,470.9 L210.92,471.29 L212.36,471.68 L213.81,472.07 L215.25,472.45 L216.7,472.83 L218.15,473.21 L219.6,473.58 L221.05,473.94 L222.5,474.3 L223.96,474.66 L225.41,475.01 L226.86,475.36 L228.32,475.71 L229.78,476.05 L231.23,476.39 L232.69,476.73 L234.15,477.07 L235.61,477.4 L237.07,477.73 L238.53,478.05 L239.99,478.37 L241.45,478.68 L242.92,478.99 L244.38,479.3 L245.85,479.6 L247.31,479.9 L248.78,480.2 L250.25,480.49 L251.71,480.79 L253.18,481.08 L254.65,481.37 L256.11,481.67 L257.58,481.96 L259.05,482.26 L260.52,482.55 L261.99,482.82 L263.46,483.09 L264.94,483.33 L266.42,483.55 L267.9,483.76 L269.38,483.96 L270.86,484.16 L272.35,484.34 L273.83,484.52 L275.32,484.69 L276.81,484.86 L278.29,485.03 L279.78,485.19 L281.27,485.35 L282.76,485.51 L284.24,485.68 L285.73,485.84 L287.22,486.01 L288.7,486.19 L290.19,486.37 L291.67,486.56 L293.15,486.75 L294.64,486.95 L296.12,487.16 L297.6,487.37 L299.08,487.59 L300.56,487.81 L302.04,488.03 L303.52,488.25 L305,488.48 L306.48,488.7 L307.96,488.93 L309.44,489.15 L310.92,489.38 L312.4,489.6 L313.88,489.82 L315.36,490.04 L316.84,490.25 L318.32,490.46 L319.8,490.66 L321.28,490.86 L322.77,491.05 L324.25,491.24 L325.74,491.42 L327.22,491.59 L328.71,491.76 L330.2,491.92 L331.69,492.08 L333.17,492.24 L334.66,492.4 L336.15,492.55 L337.64,492.71 L339.13,492.85 L340.62,493 L342.1,493.15 L343.59,493.29 L345.08,493.43 L346.57,493.57 L348.06,493.71 L349.55,493.85 L351.04,493.99 L352.53,494.12 L354.02,494.26 L355.51,494.39 L357,494.53 L358.49,494.66 L359.98,494.79 L361.47,494.92 L362.96,495.06 L364.45,495.19 L365.94,495.33 L367.43,495.46 L368.92,495.59 L370.41,495.73 L371.91,495.86 L373.4,495.99 L374.89,496.12 L376.38,496.25 L377.87,496.38 L379.36,496.51 L380.85,496.63 L382.34,496.76 L383.83,496.88 L385.32,497 L386.81,497.11 L388.31,497.22 L389.8,497.33 L391.29,497.44 L392.78,497.54 L394.28,497.64 L395.77,497.74 L397.26,497.83 L398.76,497.92 L400.25,498 L401.74,498.08 L403.24,498.16 L404.73,498.24 L406.23,498.32 L407.72,498.4 L409.22,498.47 L410.71,498.54 L412.2,498.61 L413.7,498.68 L415.19,498.75 L416.69,498.82 L418.18,498.88 L419.68,498.95 L421.17,499.01 L422.67,499.08 L424.16,499.14 L425.66,499.21 L427.15,499.27 L428.65,499.34 L430.14,499.4 L431.64,499.47 L433.13,499.54 L434.63,499.61 L436.12,499.67 L437.62,499.74 L439.11,499.81 L440.6,499.88 L442.1,499.95 L443.59,500.02 L445.09,500.09 L446.58,500.16 L448.08,500.23 L449.57,500.29 L451.07,500.36 L452.56,500.42 L454.06,500.49 L455.55,500.55 L457.05,500.61 L458.54,500.67 L460.04,500.73 L461.53,500.79 L463.03,500.84 L464.52,500.89 L466.02,500.94 L467.51,500.99 L469.01,501.03 L470.5,501.07 L472,501.1" stroke="#1a16c4" stroke-width="1.75" stroke-dasharray="7.6,5.06" stroke-dashoffset="12.6"/>
<path d="M65.5,371.6 L65.64,373.09 L65.78,374.58 L65.93,376.07 L66.07,377.56 L66.22,379.04 L66.36,380.53 L66.51,382.02 L66.66,383.51 L66.81,385 L66.97,386.49 L67.12,387.97 L67.28,389.46 L67.44,390.95 L67.6,392.44 L67.76,393.92 L67.93,395.41 L68.1,396.9 L68.27,398.38 L68.45,399.87 L68.63,401.35 L68.81,402.84 L68.99,404.32 L69.18,405.81 L69.37,407.29 L69.56,408.77 L69.75,410.26 L69.95,411.74 L70.14,413.22 L70.34,414.71 L70.55,416.19 L70.75,417.67 L70.96,419.15 L71.17,420.63 L71.38,422.11 L71.59,423.59 L71.81,425.07 L72.03,426.55 L72.25,428.03 L72.48,429.51 L72.7,430.99 L72.93,432.47 L73.16,433.95 L73.39,435.43 L73.62,436.9 L73.85,438.38 L74.09,439.86 L74.33,441.33 L74.57,442.81 L74.82,444.29 L75.08,445.76 L75.34,447.23 L75.6,448.71 L75.88,450.18 L76.16,451.64 L76.46,453.11 L76.77,454.57 L77.09,456.03 L77.42,457.49 L77.77,458.95 L78.14,460.4 L78.51,461.85 L78.9,463.29 L79.29,464.74 L79.69,466.18 L80.1,467.62 L80.51,469.05 L80.95,470.48 L81.4,471.91 L81.88,473.33 L82.37,474.74 L82.89,476.14 L83.42,477.54 L84,478.92 L84.64,480.27 L85.34,481.6 L86.09,482.89 L86.9,484.15 L87.77,485.36 L88.69,486.54 L89.67,487.67 L90.68,488.78 L91.7,489.87 L92.72,490.96 L93.73,492.07 L94.75,493.16 L95.79,494.23 L96.88,495.26 L98.02,496.23 L99.22,497.13 L100.44,497.98 L101.69,498.81 L102.94,499.63 L104.2,500.44 L105.46,501.24 L106.74,502.02 L108.04,502.76 L109.36,503.45 L110.7,504.12 L112.06,504.75 L113.43,505.35 L114.81,505.92 L116.21,506.47 L117.61,506.98 L119.02,507.47 L120.44,507.95 L121.86,508.42 L123.28,508.89 L124.7,509.36 L126.12,509.83 L127.54,510.29 L128.97,510.73 L130.41,511.15 L131.85,511.54 L133.3,511.91 L134.76,512.26 L136.21,512.6 L137.67,512.93 L139.13,513.25 L140.6,513.56 L142.06,513.86 L143.53,514.14 L145,514.42 L146.47,514.69 L147.95,514.95 L149.42,515.21 L150.89,515.46 L152.37,515.71 L153.84,515.96 L155.32,516.2 L156.8,516.44 L158.27,516.68 L159.75,516.91 L161.23,517.13 L162.71,517.35 L164.19,517.57 L165.67,517.78 L167.15,517.98 L168.64,518.18 L170.12,518.38 L171.6,518.57 L173.09,518.75 L174.57,518.92 L176.06,519.1 L177.55,519.26 L179.03,519.42 L180.52,519.58 L182.01,519.73 L183.5,519.88 L184.99,520.03 L186.48,520.18 L187.96,520.32 L189.45,520.46 L190.94,520.6 L192.43,520.73 L193.92,520.86 L195.41,520.99 L196.9,521.12 L198.39,521.24 L199.89,521.36 L201.38,521.48 L202.87,521.6 L204.36,521.71 L205.85,521.83 L207.34,521.94 L208.83,522.04 L210.33,522.15 L211.82,522.26 L213.31,522.36 L214.8,522.46 L216.3,522.56 L217.79,522.66 L219.28,522.75 L220.77,522.85 L222.27,522.94 L223.76,523.04 L225.25,523.13 L226.75,523.22 L228.24,523.3 L229.73,523.39 L231.23,523.48 L232.72,523.56 L234.21,523.64 L235.71,523.72 L237.2,523.8 L238.7,523.88 L240.19,523.96 L241.68,524.03 L243.18,524.11 L244.67,524.18 L246.17,524.25 L247.66,524.32 L249.15,524.39 L250.65,524.46 L252.14,524.53 L253.64,524.59 L255.13,524.66 L256.63,524.72 L258.12,524.79 L259.62,524.85 L261.11,524.92 L262.6,524.98 L264.1,525.04 L265.59,525.1 L267.09,525.17 L268.58,525.23 L270.08,525.29 L271.57,525.34 L273.07,525.4 L274.56,525.46 L276.06,525.51 L277.55,525.56 L279.05,525.61 L280.54,525.66 L282.04,525.7 L283.53,525.75 L285.03,525.79 L286.52,525.82 L288.02,525.86 L289.51,525.89 L291.01,525.92 L292.51,525.95 L294,525.98 L295.5,526 L296.99,526.03 L298.49,526.06 L299.98,526.08 L301.48,526.11 L302.98,526.13 L304.47,526.15 L305.97,526.18 L307.46,526.2 L308.96,526.22 L310.45,526.24 L311.95,526.27 L313.45,526.29 L314.94,526.31 L316.44,526.33 L317.93,526.35 L319.43,526.36 L320.92,526.38 L322.42,526.4 L323.92,526.42 L325.41,526.44 L326.91,526.45 L328.4,526.47 L329.9,526.49 L331.4,526.51 L332.89,526.52 L334.39,526.54 L335.88,526.55 L337.38,526.57 L338.87,526.58 L340.37,526.6 L341.87,526.62 L343.36,526.63 L344.86,526.65 L346.35,526.66 L347.85,526.68 L349.34,526.69 L350.84,526.7 L352.34,526.72 L353.83,526.73 L355.33,526.75 L356.82,526.76 L358.32,526.78 L359.82,526.79 L361.31,526.81 L362.81,526.82 L364.3,526.84 L365.8,526.85 L367.29,526.87 L368.79,526.89 L370.29,526.9 L371.78,526.92 L373.28,526.93 L374.77,526.95 L376.27,526.97 L377.77,526.99 L379.26,527 L380.76,527.02 L382.25,527.04 L383.75,527.06 L385.24,527.08 L386.74,527.1 L388.24,527.12 L389.73,527.14 L391.23,527.16 L392.72,527.18 L394.22,527.2 L395.71,527.22 L397.21,527.24 L398.71,527.27 L400.2,527.29 L401.7,527.31 L403.19,527.33 L404.69,527.35 L406.18,527.38 L407.68,527.4 L409.18,527.42 L410.67,527.44 L412.17,527.47 L413.66,527.49 L415.16,527.51 L416.65,527.53 L418.15,527.55 L419.65,527.58 L421.14,527.6 L422.64,527.62 L424.13,527.64 L425.63,527.66 L427.12,527.68 L428.62,527.7 L430.12,527.72 L431.61,527.74 L433.11,527.76 L434.6,527.78 L436.1,527.79 L437.6,527.81 L439.09,527.83 L440.59,527.84 L442.08,527.86 L443.58,527.87 L445.07,527.89 L446.57,527.9 L448.07,527.91 L449.56,527.92 L451.06,527.94 L452.55,527.95 L454.05,527.96 L455.55,527.96 L457.04,527.97 L458.54,527.98 L460.03,527.99 L461.53,527.99 L463.02,527.99 L464.52,528 L466.02,528 L467.51,528 L469.01,528 L470.5,528 L472,528" stroke="#70287a" stroke-width="1.75" stroke-dasharray="7,5.5,2,6" stroke-dashoffset="12.45"/>
<path d="M74.2,570 L74.4,568.52 L74.58,567.03 L74.73,565.55 L74.88,564.06 L75.03,562.57 L75.19,561.08 L75.42,559.61 L75.95,558.21 L76.64,556.89 L77.52,555.68 L78.6,554.65 L79.73,553.68 L80.75,552.59 L81.74,551.46 L82.74,550.35 L83.79,549.29 L84.91,548.3 L86.14,547.45 L87.44,546.71 L88.78,546.04 L90.15,545.44 L91.53,544.88 L92.93,544.35 L94.34,543.84 L95.75,543.36 L97.18,542.91 L98.61,542.49 L100.06,542.11 L101.51,541.76 L102.97,541.43 L104.44,541.13 L105.9,540.85 L107.38,540.59 L108.85,540.36 L110.33,540.15 L111.81,539.94 L113.3,539.74 L114.78,539.54 L116.26,539.36 L117.75,539.19 L119.23,539.02 L120.72,538.87 L122.21,538.72 L123.7,538.59 L125.19,538.47 L126.68,538.37 L128.17,538.27 L129.66,538.17 L131.16,538.07 L132.65,537.98 L134.14,537.89 L135.63,537.81 L137.13,537.73 L138.62,537.65 L140.11,537.58 L141.61,537.5 L143.1,537.43 L144.59,537.37 L146.09,537.3 L147.58,537.24 L149.07,537.19 L150.57,537.13 L152.06,537.08 L153.56,537.03 L155.05,536.98 L156.55,536.93 L158.04,536.89 L159.53,536.85 L161.03,536.81 L162.52,536.76 L164.02,536.72 L165.51,536.68 L167.01,536.64 L168.5,536.6 L170,536.56 L171.49,536.53 L172.99,536.49 L174.48,536.45 L175.97,536.42 L177.47,536.38 L178.96,536.34 L180.46,536.31 L181.95,536.28 L183.45,536.24 L184.94,536.21 L186.44,536.18 L187.93,536.15 L189.43,536.12 L190.92,536.09 L192.42,536.07 L193.91,536.04 L195.41,536.02 L196.9,535.99 L198.4,535.97 L199.89,535.95 L201.39,535.93 L202.88,535.91 L204.38,535.89 L205.87,535.87 L207.37,535.86 L208.86,535.84 L210.36,535.83 L211.85,535.82 L213.35,535.81 L214.84,535.8 L216.34,535.8 L217.83,535.79 L219.33,535.78 L220.82,535.78 L222.32,535.77 L223.81,535.76 L225.31,535.76 L226.8,535.75 L228.3,535.75 L229.79,535.74 L231.29,535.74 L232.78,535.73 L234.28,535.73 L235.77,535.72 L237.27,535.72 L238.76,535.71 L240.26,535.71 L241.75,535.71 L243.25,535.7 L244.74,535.7 L246.24,535.69 L247.73,535.69 L249.23,535.69 L250.72,535.68 L252.22,535.68 L253.71,535.68 L255.21,535.68 L256.71,535.67 L258.2,535.67 L259.7,535.67 L261.19,535.66 L262.69,535.66 L264.18,535.66 L265.68,535.65 L267.17,535.65 L268.67,535.65 L270.16,535.65 L271.66,535.64 L273.15,535.64 L274.65,535.64 L276.14,535.63 L277.64,535.63 L279.13,535.63 L280.63,535.63 L282.12,535.62 L283.62,535.62 L285.11,535.62 L286.61,535.61 L288.1,535.61 L289.6,535.61 L291.09,535.6 L292.59,535.6 L294.08,535.6 L295.58,535.59 L297.07,535.59 L298.57,535.58 L300.06,535.58 L301.56,535.58 L303.05,535.57 L304.55,535.57 L306.04,535.57 L307.54,535.56 L309.03,535.56 L310.53,535.56 L312.02,535.55 L313.52,535.55 L315.01,535.55 L316.51,535.54 L318,535.54 L319.5,535.54 L320.99,535.53 L322.49,535.53 L323.98,535.53 L325.48,535.53 L326.98,535.52 L328.47,535.52 L329.97,535.52 L331.46,535.51 L332.96,535.51 L334.45,535.51 L335.95,535.5 L337.44,535.5 L338.94,535.5 L340.43,535.49 L341.93,535.49 L343.42,535.49 L344.92,535.48 L346.41,535.48 L347.91,535.48 L349.4,535.47 L350.9,535.47 L352.39,535.47 L353.89,535.46 L355.38,535.46 L356.88,535.46 L358.37,535.45 L359.87,535.45 L361.36,535.45 L362.86,535.44 L364.35,535.44 L365.85,535.43 L367.34,535.43 L368.84,535.43 L370.33,535.42 L371.83,535.42 L373.32,535.42 L374.82,535.41 L376.31,535.41 L377.81,535.4 L379.3,535.4 L380.8,535.39 L382.29,535.39 L383.79,535.39 L385.28,535.38 L386.78,535.38 L388.27,535.37 L389.77,535.37 L391.26,535.36 L392.76,535.35 L394.25,535.35 L395.75,535.34 L397.24,535.34 L398.74,535.33 L400.24,535.32 L401.73,535.32 L403.23,535.31 L404.72,535.3 L406.22,535.3 L407.71,535.29 L409.21,535.28 L410.7,535.28 L412.2,535.27 L413.69,535.26 L415.19,535.26 L416.68,535.25 L418.18,535.24 L419.67,535.24 L421.17,535.23 L422.66,535.22 L424.16,535.22 L425.65,535.21 L427.15,535.2 L428.64,535.2 L430.14,535.19 L431.63,535.19 L433.13,535.18 L434.62,535.17 L436.12,535.17 L437.61,535.16 L439.11,535.16 L440.6,535.15 L442.1,535.15 L443.59,535.14 L445.09,535.14 L446.58,535.13 L448.08,535.13 L449.57,535.12 L451.07,535.12 L452.56,535.12 L454.06,535.11 L455.55,535.11 L457.05,535.11 L458.54,535.11 L460.04,535.1 L461.53,535.1 L463.03,535.1 L464.52,535.1 L466.02,535.1 L467.51,535.1 L469.01,535.1 L470.5,535.1 L472,535.1" stroke="#787e2a" stroke-width="1.75" stroke-dasharray="3,4.9" stroke-dashoffset="6.5"/>
</g>
<g clip-path="url(#c1)" fill="none" stroke-linejoin="round">
<path d="M65.63,570.5 L75.89,522.2 L86.15,501.8 L96.41,489.3 L106.67,480.9 L116.93,475.4 L127.19,470.4 L137.45,466.8 L147.71,463.7 L157.97,461.6 L168.23,460 L178.49,458.5 L188.75,457.3 L199.01,456.5 L209.27,456 L219.53,455.7 L229.79,455.4 L240.05,455.3 L250.31,455.24 L260.57,455.28 L270.83,455.42 L281.09,455.56 L291.35,455.7 L301.61,456.04 L311.87,456.39 L322.13,456.73 L332.39,457.18 L342.65,457.62 L352.91,458.16 L363.17,458.71 L373.43,459.25 L383.69,459.7 L393.95,460.14 L404.21,460.58 L414.47,461.13 L424.73,461.69 L434.99,462.37 L445.25,463.05 L455.51,463.73 L465.77,464.51" stroke="#1a12ee" stroke-width="1.7"/>
<path d="M65.63,511 L75.89,460.2 L86.15,441.9 L96.41,430.4 L106.67,423.1 L116.93,418.3 L127.19,414 L137.45,411.37 L147.71,409.53 L157.97,408.5 L168.23,407.2 L178.49,406.4 L188.75,406 L199.01,405.8 L209.27,405.8 L219.53,405.8 L229.79,406 L240.05,406.4 L250.31,406.76 L260.57,407.22 L270.83,407.78 L281.09,408.34 L291.35,409 L301.61,409.76 L311.87,410.32 L322.13,411.2 L332.39,411.8 L342.65,412.7 L352.91,413.5 L363.17,414.5 L373.43,415.5 L383.69,416.4 L393.95,417.1 L404.21,417.8 L414.47,418.6 L424.73,419.3 L434.99,420.1 L445.25,420.9 L455.51,421.8 L465.77,422.6" stroke="#7e1590" stroke-width="1.7"/>
<path d="M65.63,476.4 L75.89,427.5 L86.15,408.2 L96.41,397 L106.67,391 L116.93,385.8 L127.19,382 L137.45,379.97 L147.71,378.13 L157.97,377.4 L168.23,376.8 L178.49,376.6 L188.75,376.6 L199.01,376.8 L209.27,377.2 L219.53,377.6 L229.79,378.3 L240.05,378.9 L250.31,379.56 L260.57,380.62 L270.83,381.38 L281.09,382.14 L291.35,382.9 L301.61,383.76 L311.87,384.52 L322.13,385.5 L332.39,386.4 L342.65,387.3 L352.91,388.3 L363.17,389.5 L373.43,390.5 L383.69,391.5 L393.95,392.5 L404.21,393.5 L414.47,394.5 L424.73,395.4 L434.99,396.4 L445.25,397.4 L455.51,398.5 L465.77,399.5" stroke="#7b8a10" stroke-width="1.7"/>
</g>
<g clip-path="url(#c1)">
<circle cx="65.63" cy="536.6" r="3.5" fill="#1c18f6" stroke="#1010b8" stroke-width="0.7"/>
<circle cx="75.89" cy="507" r="3.5" fill="#1c18f6" stroke="#1010b8" stroke-width="0.7"/>
<circle cx="86.15" cy="491.5" r="3.5" fill="#1c18f6" stroke="#1010b8" stroke-width="0.7"/>
<circle cx="96.41" cy="481.5" r="3.5" fill="#1c18f6" stroke="#1010b8" stroke-width="0.7"/>
<circle cx="106.67" cy="474.5" r="3.5" fill="#1c18f6" stroke="#1010b8" stroke-width="0.7"/>
<circle cx="116.93" cy="469.2" r="3.5" fill="#1c18f6" stroke="#1010b8" stroke-width="0.7"/>
<circle cx="127.19" cy="465.4" r="3.5" fill="#1c18f6" stroke="#1010b8" stroke-width="0.7"/>
<circle cx="137.45" cy="462.1" r="3.5" fill="#1c18f6" stroke="#1010b8" stroke-width="0.7"/>
<circle cx="147.71" cy="459.6" r="3.5" fill="#1c18f6" stroke="#1010b8" stroke-width="0.7"/>
<circle cx="157.97" cy="457.6" r="3.5" fill="#1c18f6" stroke="#1010b8" stroke-width="0.7"/>
<circle cx="168.23" cy="456.35" r="3.5" fill="#1c18f6" stroke="#1010b8" stroke-width="0.7"/>
<circle cx="178.49" cy="455.3" r="3.5" fill="#1c18f6" stroke="#1010b8" stroke-width="0.7"/>
<circle cx="188.75" cy="454.45" r="3.5" fill="#1c18f6" stroke="#1010b8" stroke-width="0.7"/>
<circle cx="199.01" cy="453.9" r="3.5" fill="#1c18f6" stroke="#1010b8" stroke-width="0.7"/>
<circle cx="209.27" cy="453.31" r="3.5" fill="#1c18f6" stroke="#1010b8" stroke-width="0.7"/>
<circle cx="219.53" cy="453.02" r="3.5" fill="#1c18f6" stroke="#1010b8" stroke-width="0.7"/>
<circle cx="229.79" cy="452.83" r="3.5" fill="#1c18f6" stroke="#1010b8" stroke-width="0.7"/>
<circle cx="240.05" cy="452.84" r="3.5" fill="#1c18f6" stroke="#1010b8" stroke-width="0.7"/>
<circle cx="250.31" cy="452.95" r="3.5" fill="#1c18f6" stroke="#1010b8" stroke-width="0.7"/>
<circle cx="260.57" cy="453.16" r="3.5" fill="#1c18f6" stroke="#1010b8" stroke-width="0.7"/>
<circle cx="270.83" cy="453.47" r="3.5" fill="#1c18f6" stroke="#1010b8" stroke-width="0.7"/>
<circle cx="281.09" cy="453.78" r="3.5" fill="#1c18f6" stroke="#1010b8" stroke-width="0.7"/>
<circle cx="291.35" cy="454.09" r="3.5" fill="#1c18f6" stroke="#1010b8" stroke-width="0.7"/>
<circle cx="301.61" cy="454.5" r="3.5" fill="#1c18f6" stroke="#1010b8" stroke-width="0.7"/>
<circle cx="311.87" cy="454.84" r="3.5" fill="#1c18f6" stroke="#1010b8" stroke-width="0.7"/>
<circle cx="322.13" cy="455.18" r="3.5" fill="#1c18f6" stroke="#1010b8" stroke-width="0.7"/>
<circle cx="332.39" cy="455.62" r="3.5" fill="#1c18f6" stroke="#1010b8" stroke-width="0.7"/>
<circle cx="342.65" cy="456.05" r="3.5" fill="#1c18f6" stroke="#1010b8" stroke-width="0.7"/>
<circle cx="352.91" cy="456.59" r="3.5" fill="#1c18f6" stroke="#1010b8" stroke-width="0.7"/>
<circle cx="363.17" cy="457.13" r="3.5" fill="#1c18f6" stroke="#1010b8" stroke-width="0.7"/>
<circle cx="373.43" cy="457.69" r="3.5" fill="#1c18f6" stroke="#1010b8" stroke-width="0.7"/>
<circle cx="383.69" cy="458.19" r="3.5" fill="#1c18f6" stroke="#1010b8" stroke-width="0.7"/>
<circle cx="393.95" cy="458.67" r="3.5" fill="#1c18f6" stroke="#1010b8" stroke-width="0.7"/>
<circle cx="404.21" cy="459.16" r="3.5" fill="#1c18f6" stroke="#1010b8" stroke-width="0.7"/>
<circle cx="414.47" cy="459.75" r="3.5" fill="#1c18f6" stroke="#1010b8" stroke-width="0.7"/>
<circle cx="424.73" cy="460.35" r="3.5" fill="#1c18f6" stroke="#1010b8" stroke-width="0.7"/>
<circle cx="434.99" cy="461.04" r="3.5" fill="#1c18f6" stroke="#1010b8" stroke-width="0.7"/>
<circle cx="445.25" cy="461.73" r="3.5" fill="#1c18f6" stroke="#1010b8" stroke-width="0.7"/>
<circle cx="455.51" cy="462.41" r="3.5" fill="#1c18f6" stroke="#1010b8" stroke-width="0.7"/>
<circle cx="465.77" cy="463.2" r="3.5" fill="#1c18f6" stroke="#1010b8" stroke-width="0.7"/>
<rect x="62.48" y="500.15" width="6.3" height="6.3" fill="#7e1592" stroke="#5c0c66" stroke-width="0.7"/>
<rect x="72.74" y="457.05" width="6.3" height="6.3" fill="#7e1592" stroke="#5c0c66" stroke-width="0.7"/>
<rect x="83" y="438.75" width="6.3" height="6.3" fill="#7e1592" stroke="#5c0c66" stroke-width="0.7"/>
<rect x="93.26" y="427.25" width="6.3" height="6.3" fill="#7e1592" stroke="#5c0c66" stroke-width="0.7"/>
<rect x="103.52" y="419.95" width="6.3" height="6.3" fill="#7e1592" stroke="#5c0c66" stroke-width="0.7"/>
<rect x="113.78" y="415.15" width="6.3" height="6.3" fill="#7e1592" stroke="#5c0c66" stroke-width="0.7"/>
<rect x="124.04" y="410.85" width="6.3" height="6.3" fill="#7e1592" stroke="#5c0c66" stroke-width="0.7"/>
<rect x="134.3" y="408.22" width="6.3" height="6.3" fill="#7e1592" stroke="#5c0c66" stroke-width="0.7"/>
<rect x="144.56" y="406.38" width="6.3" height="6.3" fill="#7e1592" stroke="#5c0c66" stroke-width="0.7"/>
<rect x="154.82" y="405.35" width="6.3" height="6.3" fill="#7e1592" stroke="#5c0c66" stroke-width="0.7"/>
<rect x="165.08" y="404.05" width="6.3" height="6.3" fill="#7e1592" stroke="#5c0c66" stroke-width="0.7"/>
<rect x="175.34" y="403.25" width="6.3" height="6.3" fill="#7e1592" stroke="#5c0c66" stroke-width="0.7"/>
<rect x="185.6" y="402.85" width="6.3" height="6.3" fill="#7e1592" stroke="#5c0c66" stroke-width="0.7"/>
<rect x="195.86" y="402.65" width="6.3" height="6.3" fill="#7e1592" stroke="#5c0c66" stroke-width="0.7"/>
<rect x="206.12" y="402.65" width="6.3" height="6.3" fill="#7e1592" stroke="#5c0c66" stroke-width="0.7"/>
<rect x="216.38" y="402.65" width="6.3" height="6.3" fill="#7e1592" stroke="#5c0c66" stroke-width="0.7"/>
<rect x="226.64" y="402.85" width="6.3" height="6.3" fill="#7e1592" stroke="#5c0c66" stroke-width="0.7"/>
<rect x="236.9" y="403.25" width="6.3" height="6.3" fill="#7e1592" stroke="#5c0c66" stroke-width="0.7"/>
<rect x="247.16" y="403.61" width="6.3" height="6.3" fill="#7e1592" stroke="#5c0c66" stroke-width="0.7"/>
<rect x="257.42" y="404.07" width="6.3" height="6.3" fill="#7e1592" stroke="#5c0c66" stroke-width="0.7"/>
<rect x="267.68" y="404.63" width="6.3" height="6.3" fill="#7e1592" stroke="#5c0c66" stroke-width="0.7"/>
<rect x="277.94" y="405.19" width="6.3" height="6.3" fill="#7e1592" stroke="#5c0c66" stroke-width="0.7"/>
<rect x="288.2" y="405.85" width="6.3" height="6.3" fill="#7e1592" stroke="#5c0c66" stroke-width="0.7"/>
<rect x="298.46" y="406.61" width="6.3" height="6.3" fill="#7e1592" stroke="#5c0c66" stroke-width="0.7"/>
<rect x="308.72" y="407.17" width="6.3" height="6.3" fill="#7e1592" stroke="#5c0c66" stroke-width="0.7"/>
<rect x="318.98" y="408.05" width="6.3" height="6.3" fill="#7e1592" stroke="#5c0c66" stroke-width="0.7"/>
<rect x="329.24" y="408.65" width="6.3" height="6.3" fill="#7e1592" stroke="#5c0c66" stroke-width="0.7"/>
<rect x="339.5" y="409.55" width="6.3" height="6.3" fill="#7e1592" stroke="#5c0c66" stroke-width="0.7"/>
<rect x="349.76" y="410.35" width="6.3" height="6.3" fill="#7e1592" stroke="#5c0c66" stroke-width="0.7"/>
<rect x="360.02" y="411.35" width="6.3" height="6.3" fill="#7e1592" stroke="#5c0c66" stroke-width="0.7"/>
<rect x="370.28" y="412.35" width="6.3" height="6.3" fill="#7e1592" stroke="#5c0c66" stroke-width="0.7"/>
<rect x="380.54" y="413.25" width="6.3" height="6.3" fill="#7e1592" stroke="#5c0c66" stroke-width="0.7"/>
<rect x="390.8" y="413.95" width="6.3" height="6.3" fill="#7e1592" stroke="#5c0c66" stroke-width="0.7"/>
<rect x="401.06" y="414.65" width="6.3" height="6.3" fill="#7e1592" stroke="#5c0c66" stroke-width="0.7"/>
<rect x="411.32" y="415.45" width="6.3" height="6.3" fill="#7e1592" stroke="#5c0c66" stroke-width="0.7"/>
<rect x="421.58" y="416.15" width="6.3" height="6.3" fill="#7e1592" stroke="#5c0c66" stroke-width="0.7"/>
<rect x="431.84" y="416.95" width="6.3" height="6.3" fill="#7e1592" stroke="#5c0c66" stroke-width="0.7"/>
<rect x="442.1" y="417.75" width="6.3" height="6.3" fill="#7e1592" stroke="#5c0c66" stroke-width="0.7"/>
<rect x="452.36" y="418.65" width="6.3" height="6.3" fill="#7e1592" stroke="#5c0c66" stroke-width="0.7"/>
<rect x="462.62" y="419.45" width="6.3" height="6.3" fill="#7e1592" stroke="#5c0c66" stroke-width="0.7"/>
<path d="M65.63,472.8 L69.03,476.4 L65.63,480 L62.23,476.4Z" fill="#84951a" stroke="#5f6c12" stroke-width="0.7" stroke-linejoin="miter"/>
<path d="M75.89,423.9 L79.29,427.5 L75.89,431.1 L72.49,427.5Z" fill="#84951a" stroke="#5f6c12" stroke-width="0.7" stroke-linejoin="miter"/>
<path d="M86.15,404.6 L89.55,408.2 L86.15,411.8 L82.75,408.2Z" fill="#84951a" stroke="#5f6c12" stroke-width="0.7" stroke-linejoin="miter"/>
<path d="M96.41,393.4 L99.81,397 L96.41,400.6 L93.01,397Z" fill="#84951a" stroke="#5f6c12" stroke-width="0.7" stroke-linejoin="miter"/>
<path d="M106.67,387.4 L110.07,391 L106.67,394.6 L103.27,391Z" fill="#84951a" stroke="#5f6c12" stroke-width="0.7" stroke-linejoin="miter"/>
<path d="M116.93,382.2 L120.33,385.8 L116.93,389.4 L113.53,385.8Z" fill="#84951a" stroke="#5f6c12" stroke-width="0.7" stroke-linejoin="miter"/>
<path d="M127.19,378.4 L130.59,382 L127.19,385.6 L123.79,382Z" fill="#84951a" stroke="#5f6c12" stroke-width="0.7" stroke-linejoin="miter"/>
<path d="M137.45,376.37 L140.85,379.97 L137.45,383.57 L134.05,379.97Z" fill="#84951a" stroke="#5f6c12" stroke-width="0.7" stroke-linejoin="miter"/>
<path d="M147.71,374.53 L151.11,378.13 L147.71,381.73 L144.31,378.13Z" fill="#84951a" stroke="#5f6c12" stroke-width="0.7" stroke-linejoin="miter"/>
<path d="M157.97,373.8 L161.37,377.4 L157.97,381 L154.57,377.4Z" fill="#84951a" stroke="#5f6c12" stroke-width="0.7" stroke-linejoin="miter"/>
<path d="M168.23,373.2 L171.63,376.8 L168.23,380.4 L164.83,376.8Z" fill="#84951a" stroke="#5f6c12" stroke-width="0.7" stroke-linejoin="miter"/>
<path d="M178.49,373 L181.89,376.6 L178.49,380.2 L175.09,376.6Z" fill="#84951a" stroke="#5f6c12" stroke-width="0.7" stroke-linejoin="miter"/>
<path d="M188.75,373 L192.15,376.6 L188.75,380.2 L185.35,376.6Z" fill="#84951a" stroke="#5f6c12" stroke-width="0.7" stroke-linejoin="miter"/>
<path d="M199.01,373.2 L202.41,376.8 L199.01,380.4 L195.61,376.8Z" fill="#84951a" stroke="#5f6c12" stroke-width="0.7" stroke-linejoin="miter"/>
<path d="M209.27,373.6 L212.67,377.2 L209.27,380.8 L205.87,377.2Z" fill="#84951a" stroke="#5f6c12" stroke-width="0.7" stroke-linejoin="miter"/>
<path d="M219.53,374 L222.93,377.6 L219.53,381.2 L216.13,377.6Z" fill="#84951a" stroke="#5f6c12" stroke-width="0.7" stroke-linejoin="miter"/>
<path d="M229.79,374.7 L233.19,378.3 L229.79,381.9 L226.39,378.3Z" fill="#84951a" stroke="#5f6c12" stroke-width="0.7" stroke-linejoin="miter"/>
<path d="M240.05,375.3 L243.45,378.9 L240.05,382.5 L236.65,378.9Z" fill="#84951a" stroke="#5f6c12" stroke-width="0.7" stroke-linejoin="miter"/>
<path d="M250.31,375.96 L253.71,379.56 L250.31,383.16 L246.91,379.56Z" fill="#84951a" stroke="#5f6c12" stroke-width="0.7" stroke-linejoin="miter"/>
<path d="M260.57,377.02 L263.97,380.62 L260.57,384.22 L257.17,380.62Z" fill="#84951a" stroke="#5f6c12" stroke-width="0.7" stroke-linejoin="miter"/>
<path d="M270.83,377.78 L274.23,381.38 L270.83,384.98 L267.43,381.38Z" fill="#84951a" stroke="#5f6c12" stroke-width="0.7" stroke-linejoin="miter"/>
<path d="M281.09,378.54 L284.49,382.14 L281.09,385.74 L277.69,382.14Z" fill="#84951a" stroke="#5f6c12" stroke-width="0.7" stroke-linejoin="miter"/>
<path d="M291.35,379.3 L294.75,382.9 L291.35,386.5 L287.95,382.9Z" fill="#84951a" stroke="#5f6c12" stroke-width="0.7" stroke-linejoin="miter"/>
<path d="M301.61,380.16 L305.01,383.76 L301.61,387.36 L298.21,383.76Z" fill="#84951a" stroke="#5f6c12" stroke-width="0.7" stroke-linejoin="miter"/>
<path d="M311.87,380.92 L315.27,384.52 L311.87,388.12 L308.47,384.52Z" fill="#84951a" stroke="#5f6c12" stroke-width="0.7" stroke-linejoin="miter"/>
<path d="M322.13,381.9 L325.53,385.5 L322.13,389.1 L318.73,385.5Z" fill="#84951a" stroke="#5f6c12" stroke-width="0.7" stroke-linejoin="miter"/>
<path d="M332.39,382.8 L335.79,386.4 L332.39,390 L328.99,386.4Z" fill="#84951a" stroke="#5f6c12" stroke-width="0.7" stroke-linejoin="miter"/>
<path d="M342.65,383.7 L346.05,387.3 L342.65,390.9 L339.25,387.3Z" fill="#84951a" stroke="#5f6c12" stroke-width="0.7" stroke-linejoin="miter"/>
<path d="M352.91,384.7 L356.31,388.3 L352.91,391.9 L349.51,388.3Z" fill="#84951a" stroke="#5f6c12" stroke-width="0.7" stroke-linejoin="miter"/>
<path d="M363.17,385.9 L366.57,389.5 L363.17,393.1 L359.77,389.5Z" fill="#84951a" stroke="#5f6c12" stroke-width="0.7" stroke-linejoin="miter"/>
<path d="M373.43,386.9 L376.83,390.5 L373.43,394.1 L370.03,390.5Z" fill="#84951a" stroke="#5f6c12" stroke-width="0.7" stroke-linejoin="miter"/>
<path d="M383.69,387.9 L387.09,391.5 L383.69,395.1 L380.29,391.5Z" fill="#84951a" stroke="#5f6c12" stroke-width="0.7" stroke-linejoin="miter"/>
<path d="M393.95,388.9 L397.35,392.5 L393.95,396.1 L390.55,392.5Z" fill="#84951a" stroke="#5f6c12" stroke-width="0.7" stroke-linejoin="miter"/>
<path d="M404.21,389.9 L407.61,393.5 L404.21,397.1 L400.81,393.5Z" fill="#84951a" stroke="#5f6c12" stroke-width="0.7" stroke-linejoin="miter"/>
<path d="M414.47,390.9 L417.87,394.5 L414.47,398.1 L411.07,394.5Z" fill="#84951a" stroke="#5f6c12" stroke-width="0.7" stroke-linejoin="miter"/>
<path d="M424.73,391.8 L428.13,395.4 L424.73,399 L421.33,395.4Z" fill="#84951a" stroke="#5f6c12" stroke-width="0.7" stroke-linejoin="miter"/>
<path d="M434.99,392.8 L438.39,396.4 L434.99,400 L431.59,396.4Z" fill="#84951a" stroke="#5f6c12" stroke-width="0.7" stroke-linejoin="miter"/>
<path d="M445.25,393.8 L448.65,397.4 L445.25,401 L441.85,397.4Z" fill="#84951a" stroke="#5f6c12" stroke-width="0.7" stroke-linejoin="miter"/>
<path d="M455.51,394.9 L458.91,398.5 L455.51,402.1 L452.11,398.5Z" fill="#84951a" stroke="#5f6c12" stroke-width="0.7" stroke-linejoin="miter"/>
<path d="M465.77,395.9 L469.17,399.5 L465.77,403.1 L462.37,399.5Z" fill="#84951a" stroke="#5f6c12" stroke-width="0.7" stroke-linejoin="miter"/>
</g>
<path d="M86.15,567.7v-2.4M86.15,314.06v2.4M111.8,567.7v-2.4M111.8,314.06v2.4M137.45,567.7v-2.4M137.45,314.06v2.4M163.1,567.7v-4.4M163.1,314.06v4.4M188.75,567.7v-2.4M188.75,314.06v2.4M214.4,567.7v-2.4M214.4,314.06v2.4M240.05,567.7v-2.4M240.05,314.06v2.4M265.7,567.7v-4.4M265.7,314.06v4.4M291.35,567.7v-2.4M291.35,314.06v2.4M317,567.7v-2.4M317,314.06v2.4M342.65,567.7v-2.4M342.65,314.06v2.4M368.3,567.7v-4.4M368.3,314.06v4.4M393.95,567.7v-2.4M393.95,314.06v2.4M419.6,567.7v-2.4M419.6,314.06v2.4M445.25,567.7v-2.4M445.25,314.06v2.4M60.5,495.1h4.8M60.5,422.5h4.8M60.5,349.9h4.8M470.9,560.05h-2.9M470.9,551.57h-2.9M470.9,543.08h-2.9M470.9,534.6h-2.9M470.9,526.11h-5.0M470.9,517.62h-2.9M470.9,509.14h-2.9M470.9,500.65h-2.9M470.9,492.17h-2.9M470.9,483.68h-5.0M470.9,475.19h-2.9M470.9,466.71h-2.9M470.9,458.22h-2.9M470.9,449.74h-2.9M470.9,441.25h-5.0M470.9,432.76h-2.9M470.9,424.28h-2.9M470.9,415.79h-2.9M470.9,407.31h-2.9M470.9,398.82h-5.0M470.9,390.33h-2.9M470.9,381.85h-2.9M470.9,373.36h-2.9M470.9,364.88h-2.9M470.9,356.39h-5.0M470.9,347.9h-2.9M470.9,339.42h-2.9M470.9,330.93h-2.9M470.9,322.45h-2.9" stroke="#4a4a4a" stroke-width="1"/>
<path d="M60.5,556.77h1.8M60.5,550.38h1.8M60.5,545.85h1.8M60.5,542.33h1.8M60.5,539.45h1.8M60.5,537.02h1.8M60.5,534.92h1.8M60.5,533.06h1.8M60.5,531.4h2.2M60.5,520.47h1.8M60.5,514.08h1.8M60.5,509.55h1.8M60.5,506.03h1.8M60.5,503.15h1.8M60.5,500.72h1.8M60.5,498.62h1.8M60.5,496.76h1.8M60.5,484.17h1.8M60.5,477.78h1.8M60.5,473.25h1.8M60.5,469.73h1.8M60.5,466.85h1.8M60.5,464.42h1.8M60.5,462.32h1.8M60.5,460.46h1.8M60.5,458.8h2.2M60.5,447.87h1.8M60.5,441.48h1.8M60.5,436.95h1.8M60.5,433.43h1.8M60.5,430.55h1.8M60.5,428.12h1.8M60.5,426.02h1.8M60.5,424.16h1.8M60.5,411.57h1.8M60.5,405.18h1.8M60.5,400.65h1.8M60.5,397.13h1.8M60.5,394.25h1.8M60.5,391.82h1.8M60.5,389.72h1.8M60.5,387.86h1.8M60.5,386.2h2.2M60.5,375.27h1.8M60.5,368.88h1.8M60.5,364.35h1.8M60.5,360.83h1.8M60.5,357.95h1.8M60.5,355.52h1.8M60.5,353.42h1.8M60.5,351.56h1.8M60.5,338.97h1.8M60.5,332.58h1.8M60.5,328.05h1.8M60.5,324.53h1.8M60.5,321.65h1.8M60.5,319.22h1.8M60.5,317.12h1.8M60.5,315.26h1.8" stroke="#777" stroke-width="0.8"/>
<rect x="60.5" y="314.06" width="410.4" height="253.64" fill="none" stroke="#4a4a4a" stroke-width="1.2"/>
<text x="53.3" y="357.6" text-anchor="end" font-size="19">10<tspan font-size="14" dy="-7.3">8</tspan></text>
<text x="53.3" y="430.2" text-anchor="end" font-size="19">10<tspan font-size="14" dy="-7.3">6</tspan></text>
<text x="53.3" y="502.8" text-anchor="end" font-size="19">10<tspan font-size="14" dy="-7.3">4</tspan></text>
<text x="55.5" y="572.7" text-anchor="end" font-size="19">100</text>
<text x="475.9" y="531.0" font-size="19">0</text>
<text x="475.9" y="488.6" font-size="19">10</text>
<text x="475.9" y="446.1" font-size="19">20</text>
<text x="475.9" y="403.7" font-size="19">30</text>
<text x="475.9" y="361.3" font-size="19">40</text>
<text x="475.9" y="318.9" font-size="19">50</text>
<text x="60.5" y="587.2" text-anchor="middle" font-size="19">0.0</text>
<text x="163.1" y="587.2" text-anchor="middle" font-size="19">0.2</text>
<text x="265.7" y="587.2" text-anchor="middle" font-size="19">0.4</text>
<text x="368.3" y="587.2" text-anchor="middle" font-size="19">0.6</text>
<text x="470.9" y="587.2" text-anchor="middle" font-size="19">0.8</text>
<text transform="translate(13.3,440.9) rotate(-90)" text-anchor="middle" font-size="19">Total shielding factor</text>
<text transform="translate(520,440.9) rotate(-90)" text-anchor="middle" font-size="19">Percent difference</text>
<text x="265.7" y="615.3" text-anchor="middle" font-size="19">Scale factor <tspan font-style="italic">k</tspan></text>
</svg></body></html>
